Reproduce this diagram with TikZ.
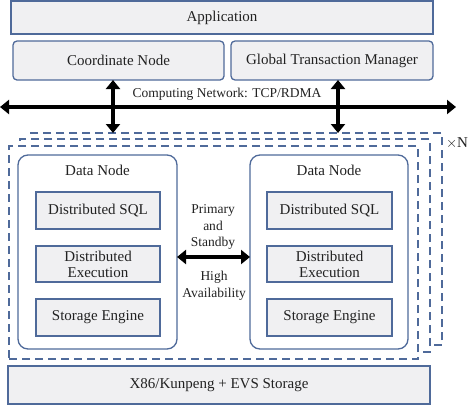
\documentclass[tikz,border=0pt]{standalone}
\usepackage{fontspec}
\setmainfont{Liberation Serif}
\usetikzlibrary{arrows.meta,calc}
\definecolor{bordc}{HTML}{4F6A9A}
\definecolor{boxfill}{HTML}{F0F0F2}
\definecolor{txt}{HTML}{222222}
\tikzset{
  x=1pt,y=-1pt,
  every node/.style={inner sep=0pt,outer sep=0pt,text=txt,font=\fontsize{15}{17}\selectfont},
  graybox/.style={draw=bordc,fill=boxfill,line width=1.3pt,anchor=north west},
  roundbox/.style={graybox,rounded corners=4pt},
  dnbox/.style={draw=bordc,fill=white,line width=1.3pt,rounded corners=10pt,anchor=north west},
  dframe/.style={draw=bordc,fill=white,line width=1.3pt,dash pattern=on 8pt off 5pt,anchor=north west},
  bigarr/.style={line width=4.5pt,{Triangle[length=9pt,width=14pt]}-{Triangle[length=9pt,width=14pt]}},
  smalltxt/.style={font=\fontsize{13.5}{16.5}\selectfont,align=center},
}
\begin{document}
\begin{tikzpicture}
\useasboundingbox (0,0) rectangle (474,405);
% top boxes
\node[graybox,minimum width=422pt,minimum height=33pt] (app) at (11,1) {Application};
\node[roundbox,minimum width=211pt,minimum height=39pt] (cn) at (13,41) {Coordinate Node};
\node[roundbox,minimum width=202pt,minimum height=39pt] (gtm) at (231,41) {Global Transaction Manager};
% stacked frames
\node[dframe,minimum width=411pt,minimum height=212pt] (back) at (31,133) {};
\node[dframe,minimum width=410pt,minimum height=213pt] (mid) at (20,139) {};
\node[dframe,minimum width=409pt,minimum height=213pt] (front) at (9,146) {};
\node[anchor=west] (xn) at (446,143) {$\times$N};
% network
\coordinate (netL) at (0,107);
\coordinate (netR) at (456,107);
\draw[bigarr] (netL) -- (netR);
\node[font=\fontsize{13.5}{16}\selectfont] (netlbl) at (227,94) {Computing Network: TCP/RDMA};
\coordinate (v1) at (113,0);
\coordinate (v2) at (338,0);
\draw[bigarr] (cn.south -| v1) -- (back.north -| v1);
\draw[bigarr] (gtm.south -| v2) -- (back.north -| v2);
% data nodes
\node[dnbox,minimum width=159pt,minimum height=194pt] (dn1) at (18,155) {};
\node[dnbox,minimum width=158pt,minimum height=194pt] (dn2) at (250,155) {};
\node (dn1t) at ($(dn1.north)+(0,15)$) {Data Node};
\node (dn2t) at ($(dn2.north)+(0,15)$) {Data Node};
% inner boxes left
\node[graybox,minimum width=124pt,minimum height=37pt] (sql1) at (36,192) {Distributed SQL};
\node[graybox,minimum width=124pt,minimum height=36pt,align=center,font=\fontsize{15}{16}\selectfont] (ex1) at (36,246) {Distributed\\Execution};
\node[graybox,minimum width=124pt,minimum height=37pt] (se1) at (36,299) {Storage Engine};
% inner boxes right
\node[graybox,minimum width=125pt,minimum height=37pt] (sql2) at (267,192) {Distributed SQL};
\node[graybox,minimum width=125pt,minimum height=36pt,align=center,font=\fontsize{15}{16}\selectfont] (ex2) at (267,246) {Distributed\\Execution};
\node[graybox,minimum width=125pt,minimum height=37pt] (se2) at (267,299) {Storage Engine};
% HA arrow
\draw[bigarr] (dn1.east |- 0,257) -- (dn2.west |- 0,257);
\node[smalltxt] (pslbl) at (213,227) {Primary\\and\\Standby};
\node[smalltxt] (halbl) at (214,286) {High\\Availability};
% bottom
\node[graybox,minimum width=422pt,minimum height=38pt] (hw) at (8,366) {X86/Kunpeng + EVS Storage};
\end{tikzpicture}
\end{document}
